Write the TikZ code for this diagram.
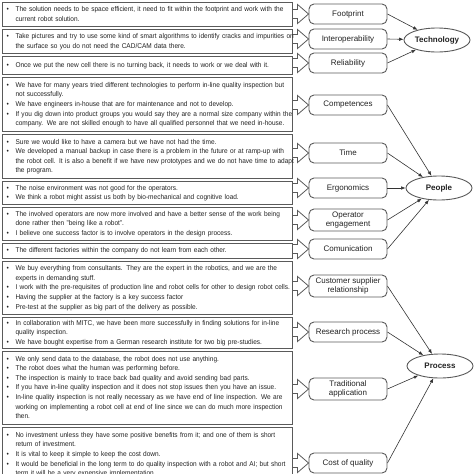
\documentclass[tikz,border=0pt]{standalone}
\usepackage{fontspec}
\setmainfont{Liberation Sans}[FakeStretch=0.93]
\newfontfamily\labfont{Liberation Sans}
\usetikzlibrary{calc,arrows.meta,shapes.geometric}
\definecolor{boxc}{HTML}{5A5A5A}
\definecolor{txtc}{HTML}{222222}
\definecolor{linec}{HTML}{333333}
\newcommand{\qfont}{\fontsize{7}{9.6}\selectfont}
\newcommand{\lfont}{\labfont\fontsize{8}{9.5}\selectfont}
\newcommand{\ofont}{\labfont\bfseries\fontsize{8}{9.5}\selectfont}
\newcommand{\qb}{\makebox[10pt][l]{\hspace{1pt}•}}
\newcommand{\qtext}[1]{\renewcommand{\arraystretch}{1}\setlength{\tabcolsep}{0pt}\begin{tabular}{@{}l@{}l@{}}#1\end{tabular}}
\newcommand{\blockarr}[2]{%
  \draw[barrow] let \p1=(#1.east), \p2=(#2.west) in
  (\x1,\y2+4.5) -- (\x2-11,\y2+4.5) -- (\x2-11,\y2+9.5) -- (\x2,\y2) --
  (\x2-11,\y2-9.5) -- (\x2-11,\y2-4.5) -- (\x1,\y2-4.5);}
\tikzset{
  qbox/.style={draw=boxc, line width=1.1pt, anchor=north west, minimum width=290pt,
    inner xsep=3pt, inner ysep=0pt, text width=284pt, align=left, font=\qfont, text=txtc},
  lbox/.style={draw=boxc, line width=0.9pt, rounded corners=5pt, minimum width=78pt,
    minimum height=20pt, inner sep=1pt, font=\lfont, align=center, text=txtc},
  oval/.style={ellipse, draw=boxc, line width=0.9pt, minimum width=66pt,
    minimum height=24pt, inner sep=0pt, font=\ofont, text=txtc},
  link/.style={draw=linec, line width=0.6pt, -{Latex[length=4.5pt,width=3.5pt]}},
  barrow/.style={draw=boxc, line width=0.8pt, line join=miter}
}
\begin{document}
\begin{tikzpicture}[x=1pt,y=-1pt]
\useasboundingbox (0,0) rectangle (474,474);
\clip (0,0) rectangle (474,474);
% quote boxes
\node[qbox, minimum height=24pt] (q1) at (2,2) {\qtext{%
\qb & The solution needs to be space efficient, it need to fit within the footprint and work with the\\
 & current robot solution.}};
\node[qbox, minimum height=24pt] (q2) at (2,29) {\qtext{%
\qb & Take pictures and try to use some kind of smart algorithms to identify cracks and impurities on\\
 & the surface so you do not need the CAD/CAM data there.}};
\node[qbox, minimum height=18pt] (q3) at (2,56) {\qtext{%
\qb & Once we put the new cell there is no turning back, it needs to work or we deal with it.}};
\node[qbox, minimum height=54pt] (q4) at (2,77) {\qtext{%
\qb & We have for many years tried different technologies to perform in-line quality inspection but\\
 & not successfully.\\
\qb & We have engineers in-house that are for maintenance and not to develop.\\
\qb & If you dig down into product groups you would say they are a normal size company within the\\
 & company. We are not skilled enough to have all qualified personnel that we need in-house.}};
\node[qbox, minimum height=44pt] (q5) at (2,134) {\qtext{%
\qb & Sure we would like to have a camera but we have not had the time.\\
\qb & We developed a manual backup in case there is a problem in the future or at ramp-up with\\
 & the robot cell. It is also a benefit if we have new prototypes and we do not have time to adapt\\
 & the program.}};
\node[qbox, minimum height=23pt] (q6) at (2,181) {\qtext{%
\qb & The noise environment was not good for the operators.\\
\qb & We think a robot might assist us both by bio-mechanical and cognitive load.}};
\node[qbox, minimum height=33pt] (q7) at (2,207) {\qtext{%
\qb & The involved operators are now more involved and have a better sense of the work being\\
 & done rather then "being like a robot".\\
\qb & I believe one success factor is to involve operators in the design process.}};
\node[qbox, minimum height=15pt] (q8) at (2,243) {\qtext{%
\qb & The different factories within the company do not learn from each other.}};
\node[qbox, minimum height=53pt] (q9) at (2,261) {\qtext{%
\qb & We buy everything from consultants. They are the expert in the robotics, and we are the\\
 & experts in demanding stuff.\\
\qb & I work with the pre-requisites of production line and robot cells for other to design robot cells.\\
\qb & Having the supplier at the factory is a key success factor\\
\qb & Pre-test at the supplier as big part of the delivery as possible.}};
\node[qbox, minimum height=31pt] (q10) at (2,317) {\qtext{%
\qb & In collaboration with MITC, we have been more successfully in finding solutions for in-line\\
 & quality inspection.\\
\qb & We have bought expertise from a German research institute for two big pre-studies.}};
\node[qbox, minimum height=73pt] (q11) at (2,351) {\qtext{%
\qb & We only send data to the database, the robot does not use anything.\\
\qb & The robot does what the human was performing before.\\
\qb & The inspection is mainly to trace back bad quality and avoid sending bad parts.\\
\qb & If you have in-line quality inspection and it does not stop issues then you have an issue.\\
\qb & In-line quality inspection is not really necessary as we have end of line inspection. We are\\
 & working on implementing a robot cell at end of line since we can do much more inspection\\
 & then.}};
\node[qbox, minimum height=54pt] (q12) at (2,427) {\qtext{%
\qb & No investment unless they have some positive benefits from it; and one of them is short\\
 & return of investment.\\
\qb & It is vital to keep it simple to keep the cost down.\\
\qb & It would be beneficial in the long term to do quality inspection with a robot and AI; but short\\
 & term it will be a very expensive implementation.}};
% labels
\node[lbox] (fp) at (348,14) {Footprint};
\node[lbox] (io) at (348,39) {Interoperability};
\node[lbox] (rel) at (348,63) {Reliability};
\node[lbox] (comp) at (348,105) {Competences};
\node[lbox] (time) at (348,153) {Time};
\node[lbox] (ergo) at (348,188) {Ergonomics};
\node[lbox, minimum height=22pt] (oe) at (348,220) {Operator\\engagement};
\node[lbox] (com) at (348,249) {Comunication};
\node[lbox, minimum height=22pt] (csr) at (348,286) {Customer supplier\\relationship};
\node[lbox] (rp) at (348,332) {Research process};
\node[lbox, minimum height=22pt] (ta) at (348,389) {Traditional\\application};
\node[lbox] (coq) at (348,463) {Cost of quality};
% categories
\node[oval] (tech) at (437,40) {Technology};
\node[oval] (people) at (439,188) {People};
\node[oval] (proc) at (440,366) {Process};
% block arrows
\blockarr{q1}{fp}
\blockarr{q2}{io}
\blockarr{q3}{rel}
\blockarr{q4}{comp}
\blockarr{q5}{time}
\blockarr{q6}{ergo}
\blockarr{q7}{oe}
\blockarr{q8}{com}
\blockarr{q9}{csr}
\blockarr{q10}{rp}
\blockarr{q11}{ta}
\blockarr{q12}{coq}
% links
\draw[link] (fp.east) -- (tech);
\draw[link] (io.east) -- (tech);
\draw[link] (rel.east) -- (tech);
\draw[link] (comp.east) -- (people);
\draw[link] (time.east) -- (people);
\draw[link] (ergo.east) -- (people);
\draw[link] (oe.east) -- (people);
\draw[link] (com.east) -- (people);
\draw[link] (csr.east) -- (proc);
\draw[link] (rp.east) -- (proc);
\draw[link] (ta.east) -- (proc);
\draw[link] (coq.east) -- (proc);
\end{tikzpicture}
\end{document}
